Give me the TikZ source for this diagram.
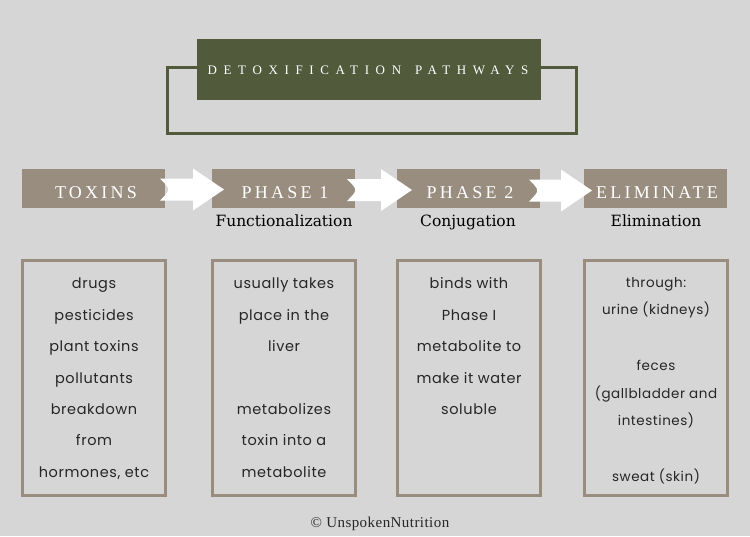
\documentclass[tikz,border=0pt]{standalone}
\usepackage{fontspec}
\usetikzlibrary{calc}
\setmainfont{Liberation Serif}
\newfontfamily\bodyfont[LetterSpace=4]{Poppins}
\newfontfamily\slabfont{DejaVu Serif}
\newfontfamily\titlefont[LetterSpace=51]{Liberation Serif}
\newfontfamily\headfont[LetterSpace=18]{Liberation Serif}
\newfontfamily\footfont[LetterSpace=3]{Liberation Serif}
\definecolor{bgc}{HTML}{D6D6D6}
\definecolor{olive}{HTML}{525A3C}
\definecolor{taupe}{HTML}{998D80}
\definecolor{ink}{HTML}{262626}
\newcommand\myblockarrow[2]{%
  \fill[white] let \p1=(#1), \p2=(#2) in
    (\x1,\y2+11pt) -- (\x2-31pt,\y2+11pt) -- (\x2-31pt,\y2+21pt) -- (\x2,\y2)
    -- (\x2-31pt,\y2-21pt) -- (\x2-31pt,\y2-11pt) -- (\x1,\y2-11pt)
    .. controls (\x1+11pt,\y2) .. (\x1,\y2+11pt) -- cycle;}
\tikzset{
  headbox/.style={fill=taupe, minimum width=143pt, minimum height=39pt, inner sep=0pt},
  headtxt/.style={anchor=base, text=white, font=\headfont\fontsize{18}{18}\selectfont, inner sep=0pt},
  subtxt/.style={anchor=base, text=black, font=\slabfont\fontsize{15.5}{15.5}\selectfont, inner sep=0pt},
  listbox/.style={draw=taupe, line width=3pt, minimum width=143pt, minimum height=235pt, inner sep=0pt},
  bodytxt/.style={anchor=base, text=ink, font=\bodyfont\fontsize{14.5}{14.5}\selectfont, inner sep=0pt},
  smalltxt/.style={anchor=base, text=ink, font=\bodyfont\fontsize{13.5}{13.5}\selectfont, inner sep=0pt}
}
\begin{document}
\begin{tikzpicture}[x=1pt,y=-1pt]
\fill[bgc] (0,0) rectangle (750,536);
\useasboundingbox (0,0) rectangle (750,536);
% title
\node[draw=olive, line width=3pt, minimum width=409pt, minimum height=66pt, inner sep=0pt] (frame) at (371.5,100) {};
\node[fill=olive, minimum width=344pt, minimum height=61pt, inner sep=0pt] (title) at (368.5,69.5) {};
\node[anchor=base, text=white, font=\titlefont\fontsize{13}{13}\selectfont, inner sep=0pt] (titletxt) at (368,74.5) {DETOXIFICATION\hspace{4pt} PATHWAYS};
% header boxes
\node[headbox] (tox) at (93.5,188.5) {};
\node[headbox] (p1) at (283.5,188.5) {};
\node[headbox] (p2) at (468.5,188.5) {};
\node[headbox] (el) at (655.5,188.5) {};
\node[headtxt] (toxt) at (96,198) {TOXINS};
\node[headtxt] (p1t) at (285,198) {PHASE 1};
\node[headtxt] (p2t) at (470,198) {PHASE 2};
\node[headtxt] (elt) at (657,198) {ELIMINATE};
% arrows
\coordinate (a1s) at (160,190);
\coordinate (a1e) at (224,189.5);
\coordinate (a2s) at (347,190);
\coordinate (a2e) at (412,190);
\coordinate (a3s) at (529,190);
\coordinate (a3e) at (592,190.5);
\myblockarrow{a1s}{a1e}
\myblockarrow{a2s}{a2e}
\myblockarrow{a3s}{a3e}
% sub labels
\node[subtxt] (s1) at (284,226) {Functionalization};
\node[subtxt] (s2) at (468,226) {Conjugation};
\node[subtxt] (s3) at (656,226) {Elimination};
% lists
\node[listbox] (b1) at (93.8,377.8) {};
\node[listbox] (b2) at (283.8,377.8) {};
\node[listbox] (b3) at (468.5,377.8) {};
\node[listbox] (b4) at (656,377.8) {};
\foreach \t/\y [count=\i] in {{drugs}/288, {pesticides}/320, {plant toxins}/351, {pollutants}/383, {breakdown}/414, {from}/445, {hormones, etc}/477}
  \node[bodytxt] (l1-\i) at (94,\y) {\t};
\foreach \t/\y [count=\i] in {{usually takes}/288, {place in the}/320, {liver}/351, {metabolizes}/414, {toxin into a}/445, {metabolite}/477}
  \node[bodytxt] (l2-\i) at (284,\y) {\t};
\foreach \t/\y [count=\i] in {{binds with}/288, {Phase I}/320, {metabolite to}/351, {make it water}/383, {soluble}/414}
  \node[bodytxt] (l3-\i) at (469,\y) {\t};
\foreach \t/\y [count=\i] in {{through:}/287, {urine (kidneys)}/314, {feces}/370, {(gallbladder and}/398, {intestines)}/425, {sweat (skin)}/481}
  \node[smalltxt] (l4-\i) at (656,\y) {\t};
% footer
\node[anchor=base, text=ink, font=\footfont\fontsize{15}{15}\selectfont, inner sep=0pt] (foot) at (380,527) {© UnspokenNutrition};
\end{tikzpicture}
\end{document}
